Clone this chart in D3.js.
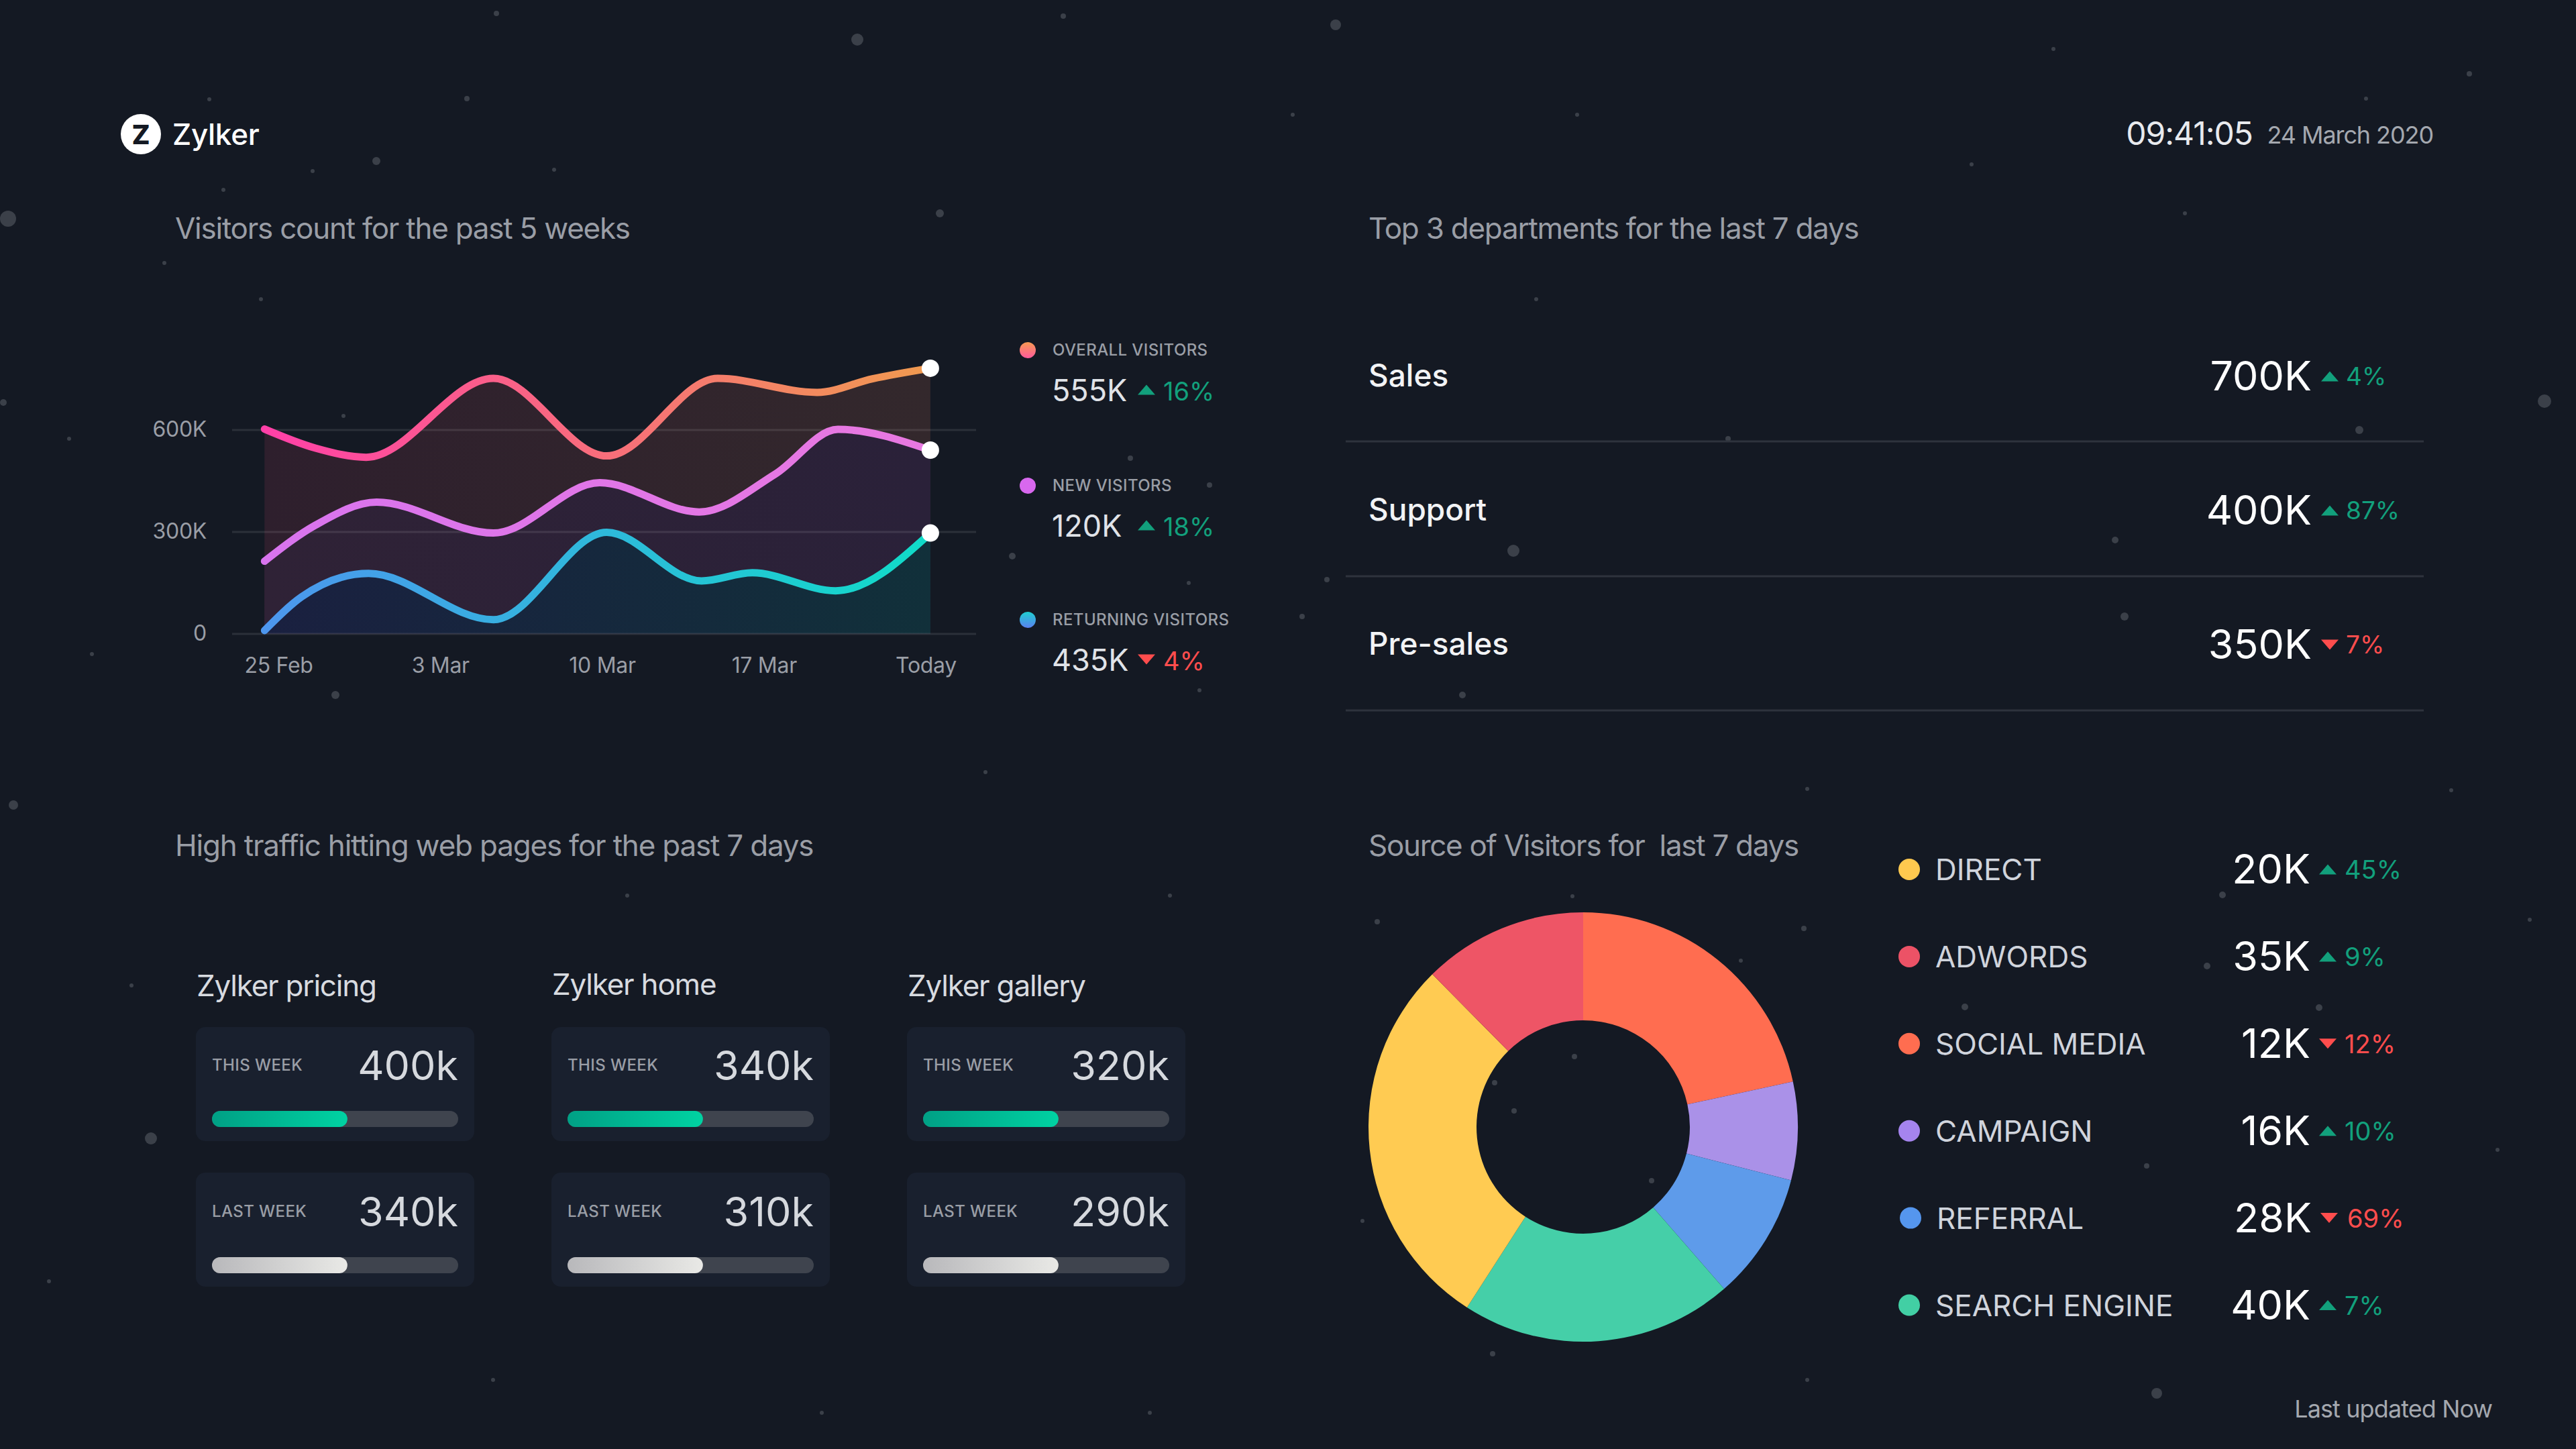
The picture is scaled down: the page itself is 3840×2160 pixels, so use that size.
<!DOCTYPE html>
<html>
<head>
<meta charset="utf-8">
<title>Zylker</title>
<script src="https://cdn.jsdelivr.net/npm/d3@7"></script>
<style>
html, body { margin: 0; padding: 0; background: #141923; }
svg { display: block; font-family: Inter, "Noto Sans", sans-serif; }
text { white-space: pre; }
</style>
</head>
<body>
<svg id="board" width="3840" height="2160"></svg>
<script>
// line chart, days counted from 25 Feb, values in thousands
var tickDays = [0, 7, 14, 21, 28];
var tickLabels = ['25 Feb', '3 Mar', '10 Mar', '17 Mar', 'Today'];
var yTicks = [0, 300, 600];
var yLabels = ['0', '300K', '600K'];

var overallDays = [-0.6, 1.6, 3.8, 9.3, 14.2, 19.0, 23.3, 25.7, 28.2];
var overallValues = [602, 546, 519, 751, 523, 751, 710, 750, 781];
var newDays = [-0.6, 1.6, 4.25, 9.3, 13.9, 18.2, 21.5, 24.2, 28.2];
var newValues = [213, 319, 387, 296, 444, 358, 470, 601, 540];
var returningDays = [-0.6, 1.0, 3.9, 9.3, 14.2, 18.3, 20.5, 24.1, 28.2];
var returningValues = [9, 108, 177, 41, 298, 155, 179, 126, 296];

var visitorNames = ['OVERALL VISITORS', 'NEW VISITORS', 'RETURNING VISITORS'];
var visitorTotals = ['555K', '120K', '435K'];
var visitorDeltas = ['16%', '18%', '4%'];
var visitorUp = [true, true, false];

// departments
var deptNames = ['Sales', 'Support', 'Pre-sales'];
var deptTotals = ['700K', '400K', '350K'];
var deptDeltas = ['4%', '87%', '7%'];
var deptUp = [true, true, false];

// web pages
var pageNames = ['Zylker pricing', 'Zylker home', 'Zylker gallery'];
var thisWeekTotals = ['400k', '340k', '320k'];
var lastWeekTotals = ['340k', '310k', '290k'];
var thisWeekShare = [0.55, 0.55, 0.55];
var lastWeekShare = [0.55, 0.55, 0.55];

// donut, slice sizes, clockwise from the top
var sliceColors = ['#ff6d50', '#aa91e8', '#5e9bea', '#45cfa8', '#ffcb52', '#ee5566'];
var sliceValues = [21.6, 7.4, 9.6, 20.5, 28.5, 12.4];

// source legend
var sourceNames = ['DIRECT', 'ADWORDS', 'SOCIAL MEDIA', 'CAMPAIGN', 'REFERRAL', 'SEARCH ENGINE'];
var sourceColors = ['#ffc94f', '#ec5266', '#ff6d50', '#a584ee', '#5596ee', '#42cfa4'];
var sourceTotals = ['20K', '35K', '12K', '16K', '28K', '40K'];
var sourceDeltas = ['45%', '9%', '12%', '10%', '69%', '7%'];
var sourceUp = [true, true, false, true, false, true];

// background specks [x, y, r]
var specks = [[12,326,12],[3793,598,10],[2256,821,9],[225,1697,9],[3215,2077,8],[1278,59,9],[1991,37,8],[20,1200,7],
	[1401,318,6],[2576,654,4],[2180,1036,5],[500,1036,6],[561,240,6],[740,20,4],[1585,24,4],[3681,110,4],[3654,1178,3],
	[5,600,5],[103,654,3],[137,975,3],[389,446,3],[2290,446,3],[2929,1501,5],[935,1335,3],[1744,1335,3],[245,392,3],
	[1788,1029,3],[1927,171,3],[2547,1567,3],[3771,1371,3],[1469,1151,3],[2939,245,3],[3527,147,3],[3257,318,3],
	[1714,2106,3],[735,2057,3],[2694,2057,3],[2351,171,3],[3061,73,3],[196,1469,3],[73,1910,3],[1225,2106,3],
	[3723,1714,3],[2694,1176,3],[3457,1502,5],[3313,1334,5],[3290,1440,5],[3200,1738,4],[3517,641,6],[3167,919,6],
	[3153,805,5],[1509,829,5],[1685,683,4],[1803,723,4],[1772,869,3],[1978,864,4],[1941,919,4],[696,147,4],[312,148,3],
	[466,255,3],[826,253,3],[333,283,3],[420,823,6],[698,863,4],[512,620,3],[1034,896,3],[906,766,3],[2053,1374,4],
	[2689,1384,4],[2595,1432,3],[2228,1614,4],[2257,1656,4],[2347,1575,4],[2462,1760,4],[2225,2018,4],[2344,1336,3],[2031,1820,3]];

var svg = d3.select('#board');
var defs = svg.append('defs');

function gradient(id, from, to, userSpace) {
	var g = defs.append('linearGradient').attr('id', id);
	if (userSpace) {
		g.attr('gradientUnits', 'userSpaceOnUse')
			.attr('x1', userSpace[0]).attr('x2', userSpace[1]).attr('y1', 0).attr('y2', 0);
	}
	g.append('stop').attr('offset', 0).attr('stop-color', from);
	g.append('stop').attr('offset', 1).attr('stop-color', to);
	return g;
}

function label(parent, x, y, str, size, fill, opts) {
	opts = opts || {};
	return parent.append('text')
		.attr('x', x).attr('y', y)
		.attr('font-size', size)
		.attr('fill', fill)
		.attr('font-weight', opts.weight || 400)
		.attr('letter-spacing', opts.spacing || 0)
		.attr('text-anchor', opts.anchor || 'start')
		.text(str);
}

var UP = '#12a07c', DOWN = '#ff4d4d';

// small up or down triangle, x is the left edge and y the vertical middle
function arrow(parent, x, y, up) {
	var w = 26, h = 15;
	var pts = up ? [[x, y + h / 2], [x + w / 2, y - h / 2], [x + w, y + h / 2]]
		: [[x, y - h / 2], [x + w / 2, y + h / 2], [x + w, y - h / 2]];
	parent.append('path')
		.attr('d', d3.line()(pts) + 'Z')
		.attr('fill', up ? UP : DOWN);
}

// background
svg.append('rect').attr('width', 3840).attr('height', 2160).attr('fill', '#141923');
svg.append('g').selectAll('circle').data(specks).join('circle')
	.attr('cx', function (d) { return d[0]; })
	.attr('cy', function (d) { return d[1]; })
	.attr('r', function (d) { return d[2]; })
	.attr('fill', '#3b4049');

// header
svg.append('circle').attr('cx', 210).attr('cy', 200).attr('r', 30).attr('fill', '#fff');
label(svg, 210, 215, 'Z', 40, '#141923', { weight: 800, anchor: 'middle' });
label(svg, 257, 216, 'Zylker', 44, '#fff', { weight: 500, spacing: -0.3 });
label(svg, 3358, 216, '09:41:05', 48, '#e8eaee', { anchor: 'end', spacing: -1 });
label(svg, 3627, 214, '24 March 2020', 36, '#a4a8af', { anchor: 'end', spacing: -1.1 });

// section titles
var TITLE = '#9a9ea6';
label(svg, 261, 356, 'Visitors count for the past 5 weeks', 44, TITLE, { spacing: -1.25 });
label(svg, 2040, 356, 'Top 3 departments for the last 7 days', 44, TITLE, { spacing: -1.25 });
label(svg, 261, 1276, 'High traffic hitting web pages for the past 7 days', 44, TITLE, { spacing: -1.2 });
label(svg, 2040, 1276, 'Source of Visitors for  last 7 days', 44, TITLE, { spacing: -1.3 });
label(svg, 3715, 2113, 'Last updated Now', 36, '#a4a8af', { anchor: 'end', spacing: -0.9 });

// line chart
var x = d3.scaleLinear().domain([0, 28]).range([415, 1380]);
var y = d3.scaleLinear().domain([0, 600]).range([944.5, 640.6]);
var xEnds = [x(-0.6), x(28.2)];

gradient('lineOverall', '#ff40a8', '#f09a4f', xEnds);
gradient('lineNew', '#d874ee', '#e878e0', xEnds);
gradient('lineReturning', '#4d96ee', '#10dcc8', xEnds);
gradient('areaOverall', '#2e1f2d', '#33282c', xEnds);
gradient('areaNew', '#2f2236', '#2a2139', xEnds);
gradient('areaReturning', '#1a2040', '#11303a', xEnds);

var series = [
	{ days: overallDays, values: overallValues, line: 'lineOverall', area: 'areaOverall' },
	{ days: newDays, values: newValues, line: 'lineNew', area: 'areaNew' },
	{ days: returningDays, values: returningValues, line: 'lineReturning', area: 'areaReturning' }
];

series.forEach(function (s) {
	s.points = s.days.map(function (d, i) { return [d, s.values[i]]; });
});

var areaGen = d3.area().curve(d3.curveMonotoneX)
	.x(function (d) { return x(d[0]); })
	.y0(y(0))
	.y1(function (d) { return y(d[1]); });
var lineGen = d3.line().curve(d3.curveMonotoneX)
	.x(function (d) { return x(d[0]); })
	.y(function (d) { return y(d[1]); });

var chart = svg.append('g');
chart.selectAll('path.area').data(series).join('path')
	.attr('class', 'area')
	.attr('d', function (s) { return areaGen(s.points); })
	.attr('fill', function (s) { return 'url(#' + s.area + ')'; });

var yAxis = d3.axisLeft(y).tickValues(yTicks)
	.tickFormat(function (d, i) { return yLabels[i]; })
	.tickSize(-1109).tickPadding(38);
var yG = chart.append('g').attr('transform', 'translate(346,0)').call(yAxis);
yG.select('.domain').remove();
yG.selectAll('line').attr('stroke', '#fff').attr('stroke-opacity', 0.1).attr('stroke-width', 3);
yG.selectAll('text').attr('font-size', 32).attr('fill', '#9a9ea6').attr('font-family', 'Inter').attr('letter-spacing', -0.3);

var xAxis = d3.axisBottom(x).tickValues(tickDays)
	.tickFormat(function (d, i) { return tickLabels[i]; })
	.tickSize(0).tickPadding(36);
var xG = chart.append('g').attr('transform', 'translate(0,944)').call(xAxis);
xG.select('.domain').remove();
xG.selectAll('text').attr('font-size', 32).attr('fill', '#9a9ea6').attr('font-family', 'Inter').attr('letter-spacing', -0.3);

chart.selectAll('path.line').data(series).join('path')
	.attr('class', 'line')
	.attr('d', function (s) { return lineGen(s.points); })
	.attr('fill', 'none')
	.attr('stroke', function (s) { return 'url(#' + s.line + ')'; })
	.attr('stroke-width', 11)
	.attr('stroke-linecap', 'round');

chart.selectAll('circle.end').data(series).join('circle')
	.attr('class', 'end')
	.attr('cx', function (s) { return x(s.days[s.days.length - 1]); })
	.attr('cy', function (s) { return y(s.values[s.values.length - 1]); })
	.attr('r', 13)
	.attr('fill', '#fff');

// visitors legend
var dotFills = ['dotOverall', 'dotNew', 'dotReturning'];
var dotStops = [['#f69a52', '#ff5a9c'], ['#d868ee', '#d868ee'], ['#1fcfd0', '#5a80f0']];
dotFills.forEach(function (id, i) {
	gradient(id, dotStops[i][0], dotStops[i][1]).attr('x2', 0).attr('y2', 1);
});
var rowTops = [0, 202, 402];
visitorNames.forEach(function (name, i) {
	var top = rowTops[i];
	svg.append('circle').attr('cx', 1532).attr('cy', 522 + top).attr('r', 12)
		.attr('fill', 'url(#' + dotFills[i] + ')');
	label(svg, 1569, 530 + top, name, 24, '#9a9ea6', { weight: 500, spacing: 0.4 });
	label(svg, 1568, 598 + top, visitorTotals[i], 45, '#e0e3e8');
	arrow(svg, 1696, 581 + top, visitorUp[i]);
	label(svg, 1734, 597 + top, visitorDeltas[i], 38, visitorUp[i] ? UP : DOWN);
});

// departments
var rowBase = [582, 782, 982];
var ruleY = [658, 859, 1059];
deptNames.forEach(function (name, i) {
	label(svg, 2040, rowBase[i] - 6, name, 46, '#f2f3f5', { weight: 500 });
	label(svg, 3446, rowBase[i], deptTotals[i], 61, '#fff', { anchor: 'end' });
	arrow(svg, 3460, rowBase[i] - 21, deptUp[i]);
	label(svg, 3497, rowBase[i] - 8, deptDeltas[i], 37, deptUp[i] ? UP : DOWN);
	svg.append('line').attr('x1', 2006).attr('x2', 3613)
		.attr('y1', ruleY[i]).attr('y2', ruleY[i])
		.attr('stroke', '#2e333d').attr('stroke-width', 3);
});

// web page cards
gradient('barGreen', '#00a085', '#00d2a2');
gradient('barGrey', '#b8b8bb', '#e9e9e6');
var barX = d3.scaleLinear().domain([0, 1]).range([0, 367]);

function pageCard(col, top, drop, caption, total, share, fill) {
	var left = 292 + col;
	svg.append('rect').attr('x', left).attr('y', top).attr('width', 415).attr('height', 170)
		.attr('rx', 14).attr('fill', '#19202e');
	label(svg, left + 24, top + 65 + drop, caption, 24, '#9a9ea6', { weight: 500, spacing: 0.4 });
	label(svg, left + 391, top + 79 + drop, total, 61, '#d6d9de', { anchor: 'end' });
	svg.append('rect').attr('x', left + 24).attr('y', top + 125 + drop).attr('width', barX(1)).attr('height', 24)
		.attr('rx', 12).attr('fill', '#3f444e');
	svg.append('rect').attr('x', left + 24).attr('y', top + 125 + drop).attr('width', barX(share)).attr('height', 24)
		.attr('rx', 12).attr('fill', 'url(#' + fill + ')');
}

pageNames.forEach(function (name, i) {
	var col = i * 530;
	label(svg, 293 + col, i === 1 ? 1483 : 1485, name, 44, '#d8dbe0', { spacing: -1.2 });
	pageCard(col, 1531, 0, 'THIS WEEK', thisWeekTotals[i], thisWeekShare[i], 'barGreen');
	pageCard(col, 1748, 1, 'LAST WEEK', lastWeekTotals[i], lastWeekShare[i], 'barGrey');
});

// donut
var pie = d3.pie().sort(null).value(function (d) { return d; });
var arc = d3.arc().innerRadius(159).outerRadius(320);
svg.append('g').attr('transform', 'translate(2360,1680)')
	.selectAll('path').data(pie(sliceValues)).join('path')
	.attr('d', arc)
	.attr('fill', function (d, i) { return sliceColors[i]; });

// source legend
sourceNames.forEach(function (name, i) {
	var cy = 1296 + i * 129.9;
	var shift = name === 'REFERRAL' ? 2 : 0;
	svg.append('circle').attr('cx', 2846 + shift).attr('cy', cy).attr('r', 16).attr('fill', sourceColors[i]);
	label(svg, 2885 + shift, cy + 16, name, 44, '#d0d4dc');
	label(svg, 3444 + shift, cy + 21, sourceTotals[i], 61, '#fff', { anchor: 'end' });
	arrow(svg, 3457 + shift, cy, sourceUp[i]);
	label(svg, 3495 + shift * 2, cy + 14, sourceDeltas[i], 38, sourceUp[i] ? UP : DOWN);
});
</script>
</body>
</html>
